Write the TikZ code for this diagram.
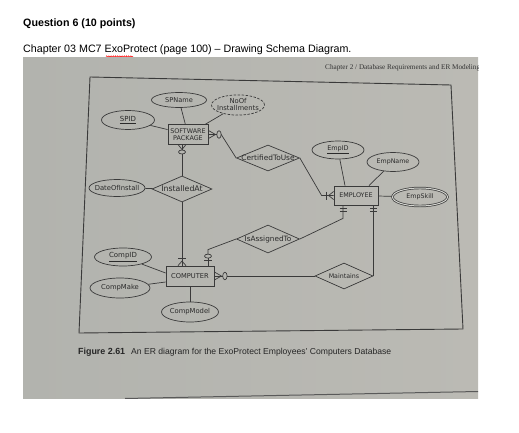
\documentclass[tikz,border=0pt]{standalone}
\usepackage{fontspec}
\setmainfont{Liberation Sans}
\newfontfamily\dv{DejaVu Sans}
\newfontfamily\lser{Liberation Serif}
\usetikzlibrary{shapes.geometric,calc,decorations.pathmorphing}
\definecolor{ln}{HTML}{3A3A3A}
\definecolor{tx}{HTML}{2A2A2A}
\definecolor{phL}{HTML}{B2B3AE}
\definecolor{phM}{HTML}{D3D4CF}
\definecolor{phR}{HTML}{BBBAB4}
\tikzset{
  fs/.style={font=\dv\fontsize{#1}{8}\selectfont},
  attr/.style={ellipse, draw=ln, line width=0.7pt, inner sep=0pt, text=tx},
  ent/.style={rectangle, draw=ln, line width=0.8pt, inner sep=0pt, align=center, text=tx},
  rel/.style={diamond, draw=ln, line width=0.7pt, inner sep=0pt, text=tx},
  conn/.style={draw=ln, line width=0.7pt},
  hdr/.style={anchor=base west, inner sep=0pt, text=black},
}
\begin{document}
\begin{tikzpicture}[x=1pt,y=-1pt]
\useasboundingbox (0,0) rectangle (519,433);
\fill[white] (0,0) rectangle (519,433);

% page header
\node[hdr, font=\bfseries\fontsize{10.7}{12}\selectfont] (q) at (23,26.5) {Question 6 (10 points)};
\node[hdr, font=\fontsize{10.7}{12}\selectfont] (ch) at (23,53) {Chapter 03 MC7 ExoProtect (page 100) – Drawing Schema Diagram.};
\draw[red, line width=0.5pt, decorate, decoration={snake, amplitude=0.7pt, segment length=2.2pt}] (106,56.5) -- (133,56.5);

% photo
\begin{scope}
  \clip (23,58) rectangle (478,398);
  \shade[left color=phL, middle color=phM, right color=phR] (23,58) rectangle (478,398);
  \node[hdr, text=black!80, font=\lser\fontsize{7.2}{8}\selectfont] (bh) at (325,70) {Chapter 2 / Database Requirements and ER Modeling};
  \draw[black!65, line width=1pt] (125,398.5) -- (478,391.5);
\end{scope}

% frame
\draw[ln, line width=0.9pt] (90,77) -- (451,85) -- (463,329) -- (79,333) -- cycle;

% caption
\node[hdr, text=black!85, font=\bfseries\fontsize{8.9}{10}\selectfont] (figno) at (78,354) {Figure 2.61};
\node[hdr, text=black!85, font=\fontsize{8.6}{10}\selectfont] (figtx) at (131,354) {An ER diagram for the ExoProtect Employees' Computers Database};

% entities
\node[ent, font=\dv\fontsize{6.4}{7.6}\selectfont, minimum width=40, minimum height=19, line width=1pt] (sw) at (188,134.5) {SOFTWARE\\PACKAGE};
\node[ent, fs=6.4, minimum width=44, minimum height=19] (emp) at (356,195.5) {EMPLOYEE};
\node[ent, fs=6.7, minimum width=48, minimum height=20] (comp) at (190,276) {COMPUTER};

% attributes
\node[attr, fs=6.6, minimum width=55, minimum height=15] (spname) at (179,100) {\makebox[0pt]{SPName}};
\node[attr, dash pattern=on 2.5pt off 1.5pt, font=\dv\fontsize{6.8}{6.6}\selectfont, minimum width=53, minimum height=19] (noof) at (238,105) {\makebox[0pt]{\begin{tabular}{@{}c@{}}NoOf\\Installments\end{tabular}}};
\node[attr, fs=7, minimum width=53, minimum height=19] (spid) at (128,120) {\makebox[0pt]{\underline{SPID}}};
\node[attr, fs=6.5, minimum width=52, minimum height=18] (empid) at (338,150) {\makebox[0pt]{\underline{EmpID}}};
\node[attr, fs=6.3, minimum width=52, minimum height=19] (empname) at (393,162) {\makebox[0pt]{EmpName}};
\node[attr, double=phM, double distance=1pt, fs=6.3, minimum width=55, minimum height=18] (skill) at (420,197) {\makebox[0pt]{EmpSkill}};
\node[attr, fs=6.8, minimum width=56, minimum height=17] (date) at (117,188) {\makebox[0pt]{DateOfInstall}};
\node[attr, fs=7, minimum width=57, minimum height=18] (compid) at (123,257) {\makebox[0pt]{\underline{CompID}}};
\node[attr, fs=6.8, minimum width=60, minimum height=20] (compmake) at (120,288) {\makebox[0pt]{CompMake}};
\node[attr, fs=6.8, minimum width=57, minimum height=20] (compmodel) at (190,312) {\makebox[0pt]{CompModel}};

% relationships
\node[rel, fs=7.4, minimum width=63, minimum height=26] (cert) at (268,158) {\makebox[0pt]{CertifiedToUse}};
\node[rel, fs=7.8, minimum width=60, minimum height=26] (inst) at (182,189) {\makebox[0pt]{InstalledAt}};
\node[rel, fs=7.3, minimum width=63, minimum height=28] (isa) at (268,239) {\makebox[0pt]{IsAssignedTo}};
\node[rel, fs=6.3, minimum width=58, minimum height=26] (maint) at (344,276) {\makebox[0pt]{Maintains}};

% attribute links
\draw[conn] (spid) -- (sw);
\draw[conn] (spname) -- (sw);
\draw[conn] (noof) -- (sw);
\draw[conn] (empid) -- ($(emp.north)+(-11,0)$);
\draw[conn] (empname) -- ($(emp.north)+(13,0)$);
\draw[conn] (emp) -- (skill);
\draw[conn] (date) -- (inst);
\draw[conn] (compid) -- ($(comp.west)+(0,-3)$);
\draw[conn] (compmake) -- ($(comp.west)+(0,6)$);
\draw[conn] (comp) -- (compmodel);

% SOFTWARE PACKAGE -- CertifiedToUse (zero or many at SW)
\draw[conn] ($(sw.east)+(0,-4)$) -- ($(sw.east)+(7,0)$) -- ($(sw.east)+(0,4)$);
\draw[conn] (sw.east) -- ($(sw.east)+(8.3,0)$);
\draw[conn] ($(sw.east)+(10.5,0)$) ellipse (2.2 and 3.8);
\draw[conn] ($(sw.east)+(12.7,0)$) -- (cert.west);

% CertifiedToUse -- EMPLOYEE (one or many at EMP)
\draw[conn] (cert.east) -- ($(emp.west)+(-12,0)$) -- (emp.west);
\draw[conn] ($(emp.west)+(0,-4)$) -- ($(emp.west)+(-5,0)$) -- ($(emp.west)+(0,4)$);
\draw[conn] ($(emp.west)+(-7,-4)$) -- ($(emp.west)+(-7,4)$);

% SOFTWARE PACKAGE -- InstalledAt (zero or many at SW)
\coordinate (swb) at (inst.north |- sw.south);
\draw[conn] ($(swb)+(-4,0)$) -- ($(swb)+(0,5)$) -- ($(swb)+(4,0)$);
\draw[conn] (swb) -- ($(swb)+(0,5.5)$);
\draw[conn] ($(swb)+(0,7.5)$) ellipse (3.5 and 2);
\draw[conn] ($(swb)+(0,9.5)$) -- (inst.north);

% InstalledAt -- COMPUTER (one or many at COMP)
\coordinate (cb1) at (inst.south |- comp.north);
\draw[conn] (inst.south) -- (cb1);
\draw[conn] ($(cb1)+(-4,-7)$) -- ($(cb1)+(4,-7)$);
\draw[conn] ($(cb1)+(-4,0)$) -- ($(cb1)+(0,-4.5)$) -- ($(cb1)+(4,0)$);

% IsAssignedTo -- COMPUTER (zero or one at COMP)
\coordinate (cb2) at ($(comp.north)+(18,0)$);
\draw[conn] (cb2) -- ($(cb2)+(0,-7.5)$);
\draw[conn] ($(cb2)+(-4,-5)$) -- ($(cb2)+(4,-5)$);
\draw[conn] ($(cb2)+(0,-9.5)$) ellipse (3.5 and 2);
\draw[conn] ($(cb2)+(0,-11.5)$) -- ($(cb2)+(0,-16)$) -- (isa.west);

% IsAssignedTo -- EMPLOYEE (exactly one at EMP)
\coordinate (eb1) at ($(emp.south)+(-13,0)$);
\draw[conn] (eb1) -- ($(eb1)+(0,13)$) -- (isa.east);
\draw[conn] ($(eb1)+(-3.5,3)$) -- ($(eb1)+(3.5,3)$);
\draw[conn] ($(eb1)+(-3.5,6)$) -- ($(eb1)+(3.5,6)$);

% Maintains -- EMPLOYEE (exactly one at EMP)
\coordinate (eb2) at (maint.east |- emp.south);
\draw[conn] (eb2) -- (maint.east);
\draw[conn] ($(eb2)+(-3.5,3)$) -- ($(eb2)+(3.5,3)$);
\draw[conn] ($(eb2)+(-3.5,6)$) -- ($(eb2)+(3.5,6)$);

% COMPUTER -- Maintains (zero or many at COMP)
\draw[conn] ($(comp.east)+(0,-4)$) -- ($(comp.east)+(7,0)$) -- ($(comp.east)+(0,4)$);
\draw[conn] (comp.east) -- ($(comp.east)+(8.3,0)$);
\draw[conn] ($(comp.east)+(10.5,0)$) ellipse (2.2 and 3.8);
\draw[conn] ($(comp.east)+(12.7,0)$) -- (maint.west);
\end{tikzpicture}
\end{document}
